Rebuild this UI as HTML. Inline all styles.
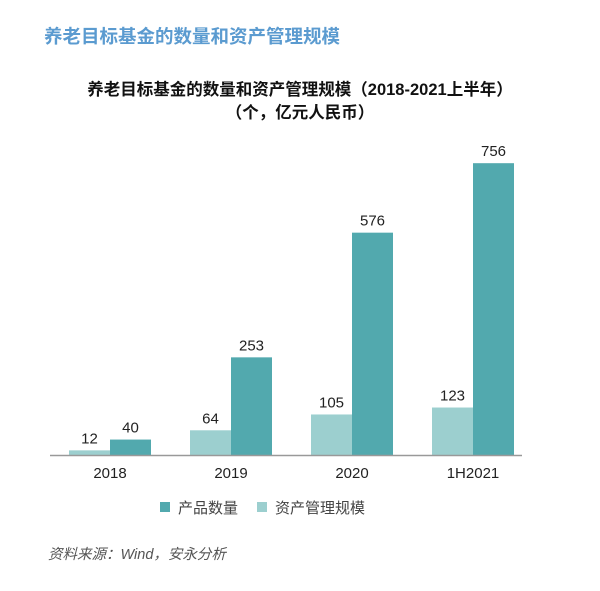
<!DOCTYPE html>
<html><head><meta charset="utf-8"><style>
body{margin:0;background:#fff;font-family:"Liberation Sans","Noto Sans CJK SC",sans-serif;}
#wrap{position:relative;width:600px;height:591px;overflow:hidden;}
.h{position:absolute;left:44px;top:23px;font-size:18.5px;font-weight:bold;color:#5b9bd0;}
.t{position:absolute;left:0;width:600px;text-align:center;font-size:16.5px;font-weight:bold;color:#111;}
.foot{position:absolute;left:48px;top:543px;font-size:14.5px;font-style:italic;color:#555;}
</style></head><body>
<div id="wrap">
<div class="h">养老目标基金的数量和资产管理规模</div>
<div class="t" style="top:76px">养老目标基金的数量和资产管理规模（2018-2021上半年）</div>
<div class="t" style="top:99px">（个，亿元人民币）</div>
<svg id="chart" width="600" height="591" style="position:absolute;left:0;top:0"></svg>
<div class="foot">资料来源：Wind，安永分析</div>
</div>
<script>
const categories=["2018","2019","2020","1H2021"];
const productCount=[40,253,576,756];
const assetScale=[12,64,105,123];
const seriesNames=["产品数量","资产管理规模"];
const svg=document.getElementById('chart');
const NS="http://www.w3.org/2000/svg";
const base=455, scale=0.386, x0=110, step=121, bw=41;
const yPos=v=>base-v*scale;
const xc=i=>x0+i*step;
function mk(tag,attrs){const e=document.createElementNS(NS,tag);for(const k in attrs)e.setAttribute(k,attrs[k]);svg.appendChild(e);return e;}
const dark="#52a9ae", light="#9ccfcf";
categories.forEach((c,i)=>{
  const cx=xc(i);
  let r=mk('rect',{x:cx-bw,y:yPos(assetScale[i]),width:bw,height:assetScale[i]*scale,fill:light});
  
  
  r=mk('rect',{x:cx,y:yPos(productCount[i]),width:bw,height:productCount[i]*scale,fill:dark});
  
  
  let t=mk('text',{x:cx-bw/2,y:yPos(assetScale[i])-7,'text-anchor':'middle','font-size':15,fill:'#222'});
  t.textContent=assetScale[i];
  
  
  t=mk('text',{x:cx+bw/2,y:yPos(productCount[i])-7,'text-anchor':'middle','font-size':15,fill:'#222'});
  t.textContent=productCount[i];
  
  
  t=mk('text',{x:cx,y:478,'text-anchor':'middle','font-size':15,fill:'#222'});
  t.textContent=c;
  
  
});
const ax=mk('line',{x1:50,x2:522,y1:base+0.5,y2:base+0.5,stroke:'#999','stroke-width':1.5});


[[160,dark,0],[257,light,1]].forEach(([x,col,k])=>{
  const s=mk('rect',{x:x,y:502,width:10,height:10,fill:col});
  
  
  const t=mk('text',{x:x+18,y:513,'font-size':15,fill:'#444'});
  t.textContent=seriesNames[k];
  
  
});
</script>
</body></html>
